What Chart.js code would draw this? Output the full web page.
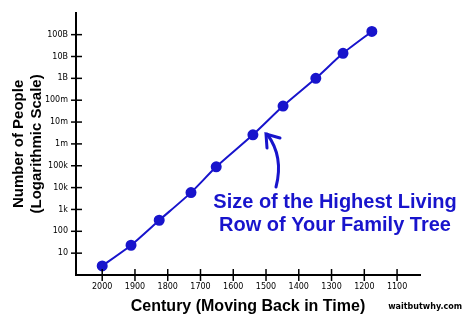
<!DOCTYPE html>
<html>
<head>
<meta charset="utf-8">
<script src="https://cdn.jsdelivr.net/npm/chart.js@4.4.1/dist/chart.umd.min.js"></script>
<style>
  body { margin: 0; background: #fff; }
  canvas { display: block; }
</style>
</head>
<body>
<canvas id="grafico" width="474" height="316"></canvas>
<script>
// Ticks do eixo x (séculos)
const centuries = [2000, 1900, 1800, 1700, 1600, 1500, 1400, 1300, 1200, 1100];
// Posição (ano) de cada ponto desenhado
const pointYears = [2000, 1912, 1826, 1729, 1652, 1540, 1448, 1348, 1265, 1177];
// Tamanho da fileira mais alta viva
const people = [2.6, 23, 320, 5900, 89000, 2.6e6, 5.4e7, 1e9, 1.4e10, 1.4e11];
// Ticks do eixo y
const yTickValues = [1e1, 1e2, 1e3, 1e4, 1e5, 1e6, 1e7, 1e8, 1e9, 1e10, 1e11];
const yTickLabels = ["10", "100", "1k", "10k", "100k", "1m", "10m", "100m", "1B", "10B", "100B"];

const azul = "#1814cc";
const fonteMao = { family: "DejaVu Sans", size: 8 };

// Plugin: marcas cruzando os eixos, seta e textos extras
const extras = {
    id: "extras",
    afterDraw(chart) {
        const c = chart.ctx;
        const xs = chart.scales.x, ys = chart.scales.y;
        c.save();
        c.strokeStyle = "#000";
        c.lineWidth = 1.5;
        centuries.forEach((v) => {
            const px = xs.getPixelForValue(v);
            c.beginPath(); c.moveTo(px, ys.bottom - 6); c.lineTo(px, ys.bottom + 6); c.stroke();
        });
        yTickValues.forEach((v) => {
            const py = ys.getPixelForValue(v);
            c.beginPath(); c.moveTo(xs.left - 5, py); c.lineTo(xs.left + 6, py); c.stroke();
        });

        // seta
        c.strokeStyle = azul;
        c.lineWidth = 3;
        c.lineCap = "round";
        c.beginPath();
        c.moveTo(276, 187);
        c.bezierCurveTo(281, 168, 279, 150, 267, 134);
        c.stroke();
        c.beginPath();
        c.moveTo(267, 148); c.lineTo(266, 134); c.lineTo(280, 138);
        c.stroke();

        // texto anotação
        c.fillStyle = azul;
        c.font = "bold 20px 'Liberation Sans'";
        c.textAlign = "center";
        c.textBaseline = "middle";
        c.fillText("Size of the Highest Living", 335, 202);
        c.fillText("Row of Your Family Tree", 335, 225);

        c.fillStyle = "#000";
        c.font = "600 8px 'DejaVu Sans'";
        c.textAlign = "right";
        c.fillText("waitbutwhy.com", 462, 307);
        c.restore();
    }
};

const ctx = document.getElementById("grafico").getContext("2d");
new Chart(ctx, {
    type: "line",
    data: {
        datasets: [{
            data: pointYears.map((x, i) => ({ x: x, y: people[i] })),
            borderColor: azul,
            backgroundColor: azul,
            borderWidth: 2,
            pointRadius: 4.5,
            pointHoverRadius: 4.5,
            tension: 0.2
        }]
    },
    options: {
        responsive: false,
        animation: false,
        layout: { padding: { top: 12, right: 54, left: 0, bottom: 0 } },
        plugins: { legend: { display: false }, tooltip: { enabled: false } },
        scales: {
            x: {
                type: "linear",
                min: 1030,
                max: 2080,
                reverse: true,
                afterBuildTicks: (s) => { s.ticks = centuries.map((v) => ({ value: v })); },
                afterFit: (s) => { s.height = 41; },
                ticks: { callback: (v) => String(v), font: fonteMao, color: "#000", padding: 7, maxRotation: 0 },
                grid: { drawOnChartArea: false, drawTicks: false },
                border: { color: "#000", width: 2 },
                title: {
                    display: true,
                    text: "Century (Moving Back in Time)",
                    font: { family: "Liberation Sans", size: 16, weight: "bold" },
                    color: "#000",
                    padding: { top: 1, bottom: 0 }
                }
            },
            y: {
                type: "logarithmic",
                min: 1,
                max: 1e12,
                afterBuildTicks: (s) => { s.ticks = yTickValues.map((v) => ({ value: v })); },
                afterFit: (s) => { s.width = 76; },
                ticks: {
                    callback: (v) => yTickLabels[Math.round(Math.log10(v)) - 1],
                    font: fonteMao,
                    color: "#000",
                    padding: 8
                },
                grid: { drawOnChartArea: false, drawTicks: false },
                border: { color: "#000", width: 2 },
                title: {
                    display: true,
                    text: ["Number of People", "(Logarithmic Scale)"],
                    font: { family: "Liberation Sans", size: 15, weight: "bold" },
                    color: "#000",
                    padding: { top: 10, bottom: 0 }
                }
            }
        }
    },
    plugins: [extras]
});
</script>
</body>
</html>
